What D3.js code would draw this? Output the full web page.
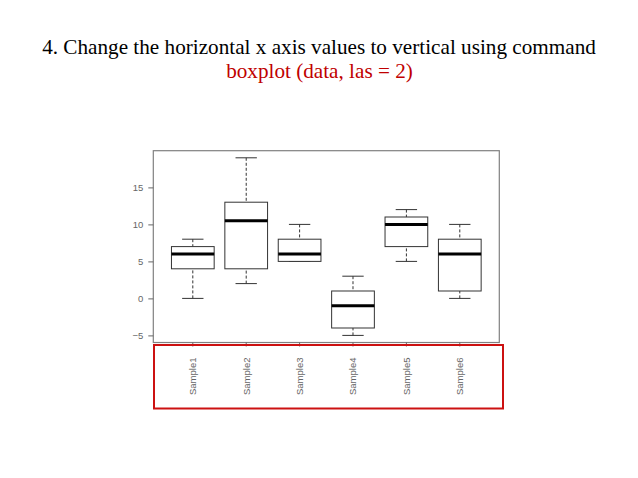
<!DOCTYPE html>
<html>
<head>
<meta charset="utf-8">
<script src="https://cdn.jsdelivr.net/npm/d3@7"></script>
<style>
  html, body { margin: 0; padding: 0; background: #fff; }
  svg { display: block; }
</style>
</head>
<body>
<svg id="chart" width="638" height="478"></svg>
<script>
// Box statistics
const samples = ["Sample1", "Sample2", "Sample3", "Sample4", "Sample5", "Sample6"];
const lowWhisker = [0, 2, 5, -5, 5, 0];
const q1 = [4, 4, 5, -4, 7, 1];
const medians = [6, 10.5, 6, -1, 10, 6];
const q3 = [7, 13, 8, 1, 11, 8];
const highWhisker = [8, 19, 10, 3, 12, 10];
const yTicks = [-5, 0, 5, 10, 15];

const titleLine1 = "4. Change the horizontal x axis values to vertical using command";
const titleLine2 = "boxplot (data, las = 2)";

const svg = d3.select("#chart");

// Title
svg.append("text")
  .attr("x", 319)
  .attr("y", 54)
  .attr("text-anchor", "middle")
  .style("font-family", "'Liberation Serif', 'Times New Roman', serif")
  .style("font-size", "21.2px")
  .style("fill", "#000")
  .text(titleLine1);

svg.append("text")
  .attr("x", 319.5)
  .attr("y", 78)
  .attr("text-anchor", "middle")
  .style("font-family", "'Liberation Serif', 'Times New Roman', serif")
  .style("font-size", "21.2px")
  .style("fill", "#c00000")
  .text(titleLine2);

// Plot region (R style: 4% extension on each side)
const plot = { left: 153.3, right: 499.3, top: 150.7, bottom: 342.5 };

const x = d3.scaleBand()
  .domain(samples)
  .range([plot.left, plot.right])
  .paddingInner(0)
  .paddingOuter(0.24);

const yMin = d3.min(lowWhisker), yMax = d3.max(highWhisker);
const pad = (yMax - yMin) * 0.04;
const y = d3.scaleLinear()
  .domain([yMin - pad, yMax + pad])
  .range([plot.bottom, plot.top]);

const cx = d => x(d) + x.bandwidth() / 2;
const boxW = x.bandwidth() * 0.8;
const capW = boxW / 2;

const data = samples.map((s, i) => ({
  name: s,
  lo: lowWhisker[i],
  q1: q1[i],
  med: medians[i],
  q3: q3[i],
  hi: highWhisker[i]
}));

const g = svg.append("g");

// Whiskers (dashed)
g.selectAll("line.whisk-lo").data(data).enter().append("line")
  .attr("x1", d => cx(d.name)).attr("x2", d => cx(d.name))
  .attr("y1", d => y(d.lo)).attr("y2", d => y(d.q1))
  .style("stroke", "#333").style("stroke-width", 1)
  .style("stroke-dasharray", "3,2");

g.selectAll("line.whisk-hi").data(data).enter().append("line")
  .attr("x1", d => cx(d.name)).attr("x2", d => cx(d.name))
  .attr("y1", d => y(d.hi)).attr("y2", d => y(d.q3))
  .style("stroke", "#333").style("stroke-width", 1)
  .style("stroke-dasharray", "3,2");

// Caps
["lo", "hi"].forEach(k => {
  g.selectAll("line.cap-" + k).data(data).enter().append("line")
    .attr("x1", d => cx(d.name) - capW / 2)
    .attr("x2", d => cx(d.name) + capW / 2)
    .attr("y1", d => y(d[k])).attr("y2", d => y(d[k]))
    .style("stroke", "#333").style("stroke-width", 1);
});

// Boxes
g.selectAll("rect.box").data(data).enter().append("rect")
  .attr("x", d => cx(d.name) - boxW / 2)
  .attr("y", d => y(d.q3))
  .attr("width", boxW)
  .attr("height", d => y(d.q1) - y(d.q3))
  .style("fill", "#fff")
  .style("stroke", "#333")
  .style("stroke-width", 1);

// Medians
g.selectAll("line.median").data(data).enter().append("line")
  .attr("x1", d => cx(d.name) - boxW / 2)
  .attr("x2", d => cx(d.name) + boxW / 2)
  .attr("y1", d => y(d.med)).attr("y2", d => y(d.med))
  .style("stroke", "#000").style("stroke-width", 3);

// Frame
svg.append("rect")
  .attr("x", plot.left).attr("y", plot.top)
  .attr("width", plot.right - plot.left)
  .attr("height", plot.bottom - plot.top)
  .style("fill", "none")
  .style("stroke", "#808080")
  .style("stroke-width", 1.2);

// Y axis
const yAxis = d3.axisLeft(y).tickValues(yTicks).tickSize(5).tickPadding(5);
const yAxisG = svg.append("g")
  .attr("transform", `translate(${plot.left},0)`)
  .call(yAxis);
yAxisG.select(".domain").remove();
yAxisG.selectAll("line").style("stroke", "#666");
yAxisG.selectAll("text")
  .style("font-family", "'Liberation Sans', Arial, sans-serif")
  .style("font-size", "9.5px")
  .style("fill", "#666");

// X axis with vertical labels (las = 2)
const xAxis = d3.axisBottom(x).tickSize(4).tickPadding(3);
const xAxisG = svg.append("g")
  .attr("transform", `translate(0,${plot.bottom})`)
  .call(xAxis);
xAxisG.select(".domain").remove();
xAxisG.selectAll("line").style("stroke", "#666");
xAxisG.selectAll("text")
  .attr("transform", "rotate(-90)")
  .attr("x", -15)
  .attr("y", 0)
  .attr("dy", "0.35em")
  .attr("text-anchor", "end")
  .style("font-family", "'Liberation Sans', Arial, sans-serif")
  .style("font-size", "9.5px")
  .style("fill", "#666");

// Red highlight box round the labels
svg.append("rect")
  .attr("x", 154)
  .attr("y", 345)
  .attr("width", 349)
  .attr("height", 63.5)
  .style("fill", "none")
  .style("stroke", "#cc1111")
  .style("stroke-width", 2);
</script>
</body>
</html>
